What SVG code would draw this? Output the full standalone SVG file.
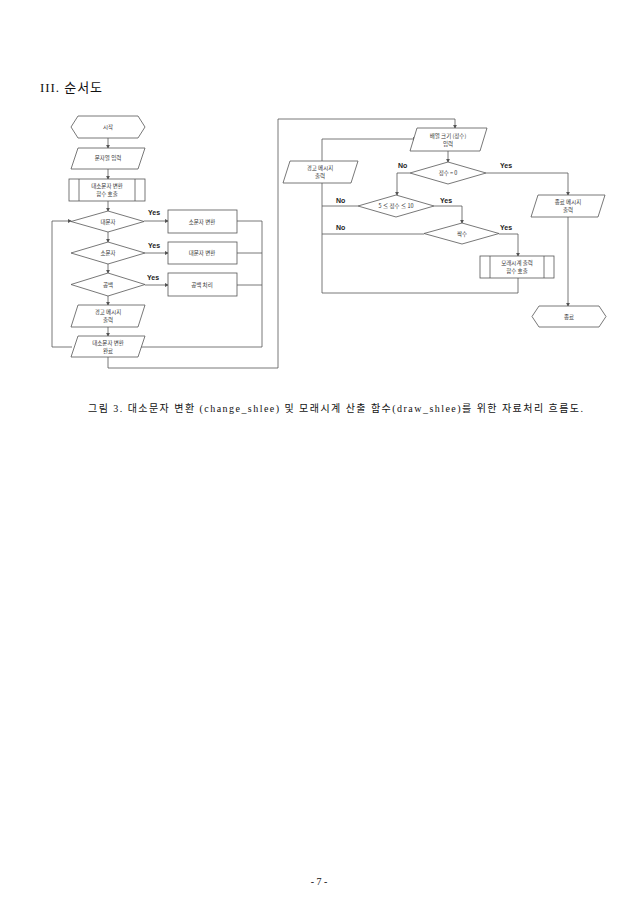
<svg xmlns="http://www.w3.org/2000/svg" width="638" height="902" viewBox="0 0 638 902">
<style>
.s{fill:#fff;stroke:#555;stroke-width:0.8}
.c{fill:none;stroke:#555;stroke-width:0.8}
.t{font-family:"Noto Sans CJK KR","Noto Sans",sans-serif;font-size:5.5px;fill:#333;text-anchor:middle}
.y{font-family:"Liberation Sans",sans-serif;font-size:7px;font-weight:bold;fill:#222}
.h{font-family:"Liberation Serif","Noto Sans CJK KR",serif;fill:#111}
</style>
<defs><marker id="a" markerWidth="5" markerHeight="5" refX="4" refY="2.5" orient="auto"><path d="M0,0L5,2.5L0,5z" fill="#555"/></marker></defs>
<rect width="638" height="902" fill="#fff"/>
<text class="h" x="40" y="92" font-size="13" textLength="62" lengthAdjust="spacing">III.  순서도</text>
<g id="connectors">
<path class="c" d="M108,138V148" marker-end="url(#a)"/>
<path class="c" d="M108,169V179" marker-end="url(#a)"/>
<path class="c" d="M108,201V211" marker-end="url(#a)"/>
<path class="c" d="M108,232V242" marker-end="url(#a)"/>
<path class="c" d="M108,264V273" marker-end="url(#a)"/>
<path class="c" d="M108,296V305" marker-end="url(#a)"/>
<path class="c" d="M108,327V336" marker-end="url(#a)"/>
<path class="c" d="M144,221H168" marker-end="url(#a)"/>
<path class="c" d="M145,253H168" marker-end="url(#a)"/>
<path class="c" d="M145,285H168" marker-end="url(#a)"/>
<path class="c" d="M237,221H262V347H136" marker-end="url(#a)"/>
<path class="c" d="M237,253H262M237,285H262"/>
<path class="c" d="M72,347H52V221H71" marker-end="url(#a)"/>
<path class="c" d="M108,357V368H278V119H455V128" marker-end="url(#a)"/>
<path class="c" d="M448,151V162" marker-end="url(#a)"/>
<path class="c" d="M486,173H568V195" marker-end="url(#a)"/>
<path class="c" d="M568,217V306" marker-end="url(#a)"/>
<path class="c" d="M410,173H397V195" marker-end="url(#a)"/>
<path class="c" d="M358,206H322"/>
<path class="c" d="M434,206H462V223" marker-end="url(#a)"/>
<path class="c" d="M424,234H322"/>
<path class="c" d="M499,234H518V256" marker-end="url(#a)"/>
<path class="c" d="M518,278V293H322V139H416" marker-end="url(#a)"/>
</g>
<g id="start"><path class="s" d="M78,116H138L145,127L138,138H78L71,127Z"/><text class="t" x="108" y="129">시작</text></g>
<g id="input"><path class="s" d="M78,148H145L138,169H71Z"/><text class="t" x="108" y="160">문자열 입력</text></g>
<g id="call"><rect class="s" x="69" y="179" width="76" height="22"/><path class="c" d="M79,179V201M135,179V201"/><text class="t" x="107" y="188">대소문자 변환</text><text class="t" x="107" y="196">함수 호출</text></g>
<g id="d1"><path class="s" d="M108,211L144,221.5L108,232L71,221.5Z"/><text class="t" x="108" y="223.5">대문자</text></g>
<g id="b1"><rect class="s" x="168" y="210" width="69" height="23"/><text class="t" x="202" y="223.5">소문자 변환</text></g>
<g id="d2"><path class="s" d="M108,242L145,253L108,264L71,253Z"/><text class="t" x="108" y="255">소문자</text></g>
<g id="b2"><rect class="s" x="168" y="242" width="69" height="22"/><text class="t" x="202" y="255">대문자 변환</text></g>
<g id="d3"><path class="s" d="M108,273L145,284.5L108,296L71,284.5Z"/><text class="t" x="108" y="286.5">공백</text></g>
<g id="b3"><rect class="s" x="168" y="273" width="69" height="23"/><text class="t" x="202" y="286.5">공백 처리</text></g>
<g id="warn1"><path class="s" d="M78,305H145L138,327H71Z"/><text class="t" x="108" y="314">경고 메시지</text><text class="t" x="108" y="322">출력</text></g>
<g id="end1"><path class="s" d="M78,336H145L138,357H71Z"/><text class="t" x="108" y="345">대소문자 변환</text><text class="t" x="108" y="353">완료</text></g>
<text class="y" x="148" y="215">Yes</text><text class="y" x="148" y="248">Yes</text><text class="y" x="147" y="280">Yes</text>
<g id="arr"><path class="s" d="M417,128H487L480,151H410Z"/><text class="t" x="448" y="138">배열 크기 (정수)</text><text class="t" x="448" y="146">입력</text></g>
<g id="d4"><path class="s" d="M448,162L486,173L448,184L410,173Z"/><text class="t" x="448" y="175">정수 = 0</text></g>
<g id="endmsg"><path class="s" d="M538,195H605L598,217H531Z"/><text class="t" x="568" y="204">종료 메시지</text><text class="t" x="568" y="212">출력</text></g>
<g id="end2"><path class="s" d="M539,306H599L606,316.5L599,327H539L532,316.5Z"/><text class="t" x="569" y="318.5">종료</text></g>
<g id="warn2"><path class="s" d="M290,161H358L351,183H283Z"/><text class="t" x="320" y="170">경고 메시지</text><text class="t" x="320" y="178">출력</text></g>
<g id="d5"><path class="s" d="M396,195L434,206L396,217L358,206Z"/><text class="t" x="396" y="208">5 ≤ 정수 ≤ 10</text></g>
<g id="d6"><path class="s" d="M462,223L499,233.5L462,244L424,233.5Z"/><text class="t" x="462" y="235.5">짝수</text></g>
<g id="call2"><rect class="s" x="480" y="256" width="74" height="22"/><path class="c" d="M490,256V278M544,256V278"/><text class="t" x="517" y="265">모래시계 출력</text><text class="t" x="517" y="273">함수 호출</text></g>
<text class="y" x="398" y="168">No</text><text class="y" x="500" y="168">Yes</text>
<text class="y" x="336" y="203">No</text><text class="y" x="440" y="203">Yes</text>
<text class="y" x="336" y="230">No</text><text class="y" x="500" y="230">Yes</text>
<text class="h" x="88" y="412" font-size="10" textLength="495" lengthAdjust="spacing">그림 3. 대소문자 변환 (change_shlee) 및 모래시계 산출 함수(draw_shlee)를 위한 자료처리 흐름도.</text>
<text class="h" x="319" y="885" font-size="10" text-anchor="middle">- 7 -</text>
</svg>
